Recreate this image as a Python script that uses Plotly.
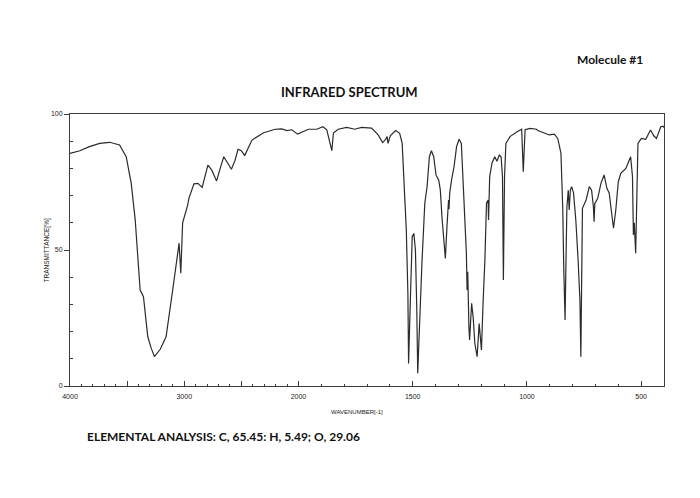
import plotly.graph_objects as go

# ---- data ----
wavenumber = [
    4000, 3914, 3830, 3740, 3653, 3566, 3508, 3464, 3429, 3406, 3386, 3357,
    3319, 3290, 3261, 3210, 3159, 3101, 3052, 3045, 3030, 3022, 3014, 2970,
    2959, 2915, 2880, 2843, 2815, 2793, 2760, 2717, 2685, 2654, 2620, 2587,
    2555, 2529, 2500, 2471, 2407, 2305, 2204, 2146, 2102, 2058, 2008,
    1967, 1956, 1920, 1893, 1876, 1862, 1854, 1847, 1826, 1789, 1753, 1724,
    1680, 1651, 1632, 1618, 1612, 1608, 1598, 1575, 1557, 1546, 1535, 1528,
    1521, 1518, 1509, 1502, 1495, 1488, 1482, 1478, 1473, 1467, 1459, 1447,
    1437, 1427, 1418, 1408, 1398, 1386, 1379, 1372, 1365, 1357, 1350, 1343,
    1341, 1338, 1330, 1319, 1308, 1297, 1287, 1280, 1272, 1265, 1262, 1259,
    1254, 1251, 1242, 1235, 1228, 1218, 1209, 1203, 1199, 1192, 1184, 1177,
    1170, 1168, 1166, 1163, 1153, 1141, 1131, 1121, 1113, 1107, 1103, 1098,
    1092, 1074, 1045, 1023, 1016, 1008, 987, 958, 952, 924, 902, 880, 865,
    851, 843, 839, 836, 833, 829, 825, 819, 815, 810, 804, 796, 786, 776,
    768, 764, 760, 757, 741, 727, 717, 709, 706, 703, 690, 676, 662, 650,
    640, 629, 621, 611, 600, 589, 567, 546, 538, 534, 530, 524, 520, 514,
    499, 480, 459, 444, 433, 414, 404, 400,
]
transmittance = [
    85.5, 86.5, 88.0, 89.2, 89.6, 88.6, 84.3, 74.5, 61.0, 47.5, 35.3, 32.8,
    18.1, 14.0, 10.8, 13.5, 18.1, 35.3, 49.0, 52.5, 41.5, 55.0, 60.0, 66.5,
    69.0, 74.3, 74.5, 73.0, 77.5, 81.2, 79.5, 75.4, 80.0, 84.3, 82.0, 79.7,
    83.0, 87.0, 86.5, 84.7, 90.4, 93.1, 94.4, 94.5, 93.9, 94.2, 92.6,
    94.1, 94.4, 94.4, 95.3, 94.2, 89.2, 86.5, 93.0, 94.4, 95.1, 94.4, 95.1,
    94.8, 92.3, 89.5, 90.7, 91.7, 89.2, 92.0, 93.9, 92.9, 89.2, 70.8, 57.4,
    34.0, 8.3, 35.3, 55.0, 56.1, 50.0, 28.0, 4.7, 15.7, 30.0, 46.3, 67.2,
    73.3, 84.3, 86.5, 84.3, 77.6, 75.7, 72.0, 62.2, 54.9, 46.9, 58.6, 68.4,
    65.0, 71.0, 75.7, 80.6, 88.0, 90.7, 89.2, 77.0, 61.0, 48.8, 35.3, 42.0,
    21.8, 16.9, 30.4, 25.0, 15.7, 10.8, 23.0, 15.7, 13.2, 30.4, 46.3, 67.2,
    68.4, 61.0, 70.0, 77.0, 81.9, 84.3, 82.6, 84.9, 84.3, 77.0, 39.0, 77.0,
    89.2, 91.7, 93.4, 94.4, 78.8, 94.2, 94.7, 94.4, 93.9, 93.1, 92.3, 92.6, 91.0,
    85.5, 64.7, 43.9, 28.0, 24.3, 46.3, 65.9, 72.0, 64.7, 72.0, 73.3, 71.0, 61.0,
    46.3, 31.6, 10.8, 52.5, 65.3, 68.4, 73.3, 72.0, 65.9, 60.4, 67.0, 69.0,
    74.5, 77.6, 72.7, 71.0, 63.5, 58.0, 64.7, 75.1, 78.2, 80.0, 84.3, 77.0,
    55.5, 60.0, 48.8, 70.8, 89.2, 91.0, 90.7, 94.1, 91.9, 91.0, 95.3, 95.5, 95.0,
]

x_major_wn = [4000, 3500, 3000, 2500, 2000, 1500, 1000, 500]
x_major_text = ["4000", "", "3000", "", "2000", "1500", "1000", "500"]
x_minor_wn = [w for w in range(4000, 399, -100) if w % 500 != 0]
y_major = [0, 50, 100]
y_major_text = ["0", "50", "100"]
y_minor = [v for v in range(10, 100, 10) if v != 50]


def to_axis(wn):
    # IR charts use a doubled scale below 2000 cm-1
    return (4000 - wn) / 2 if wn >= 2000 else 1000 + (2000 - wn)


xs = [to_axis(w) for w in wavenumber]

fig = go.Figure()
fig.add_trace(go.Scatter(
    x=xs, y=transmittance, mode="lines",
    line=dict(color="#2b2b2b", width=1.2),
    hoverinfo="skip", showlegend=False,
))

axis_col = "#3c3c3c"
tick_font = dict(size=7, family="Liberation Sans", color="#222222")
fig.update_layout(
    width=692, height=490, autosize=False,
    paper_bgcolor="white", plot_bgcolor="white",
    margin=dict(l=61.5, r=36, t=106, b=112, pad=0),
    font=dict(family="Liberation Sans", color="#222222", size=7),
    xaxis=dict(
        range=[to_axis(4000), to_axis(400)],
        tickmode="array",
        tickvals=[to_axis(w) for w in x_major_wn],
        ticktext=x_major_text,
        ticks="inside", ticklen=5, tickwidth=1, tickcolor=axis_col,
        minor=dict(tickmode="array", tickvals=[to_axis(w) for w in x_minor_wn],
                   ticks="inside", ticklen=2.5, tickwidth=1, tickcolor=axis_col),
        showline=True, linecolor=axis_col, linewidth=1, mirror=True,
        showgrid=False, zeroline=False,
        tickfont=tick_font,
        ticklabelstandoff=4,
    ),
    yaxis=dict(
        range=[0, 100],
        tickmode="array", tickvals=y_major, ticktext=y_major_text,
        ticks="outside", ticklen=5, tickwidth=1, tickcolor=axis_col,
        minor=dict(tickmode="array", tickvals=y_minor,
                   ticks="inside", ticklen=3, tickwidth=1, tickcolor=axis_col),
        showline=True, linecolor=axis_col, linewidth=1, mirror=True,
        showgrid=False, zeroline=False,
        tickfont=tick_font,
    ),
)

fig.add_annotation(text="<b>INFRARED SPECTRUM</b>", xref="paper", yref="paper",
                   x=0.470, y=1.081, xanchor="center", yanchor="middle",
                   showarrow=False, font=dict(family="Lato", size=13, color="#111111"))
fig.add_annotation(text="<b>Molecule #1</b>", xref="paper", yref="paper",
                   x=0.968, y=1.199, xanchor="right", yanchor="middle",
                   showarrow=False, font=dict(family="Lato", size=12, color="#111111"))
fig.add_annotation(text="<b>ELEMENTAL ANALYSIS: C, 65.45: H, 5.49; O, 29.06</b>",
                   xref="paper", yref="paper", x=0.026, y=-0.184,
                   xanchor="left", yanchor="middle", showarrow=False,
                   font=dict(family="Lato", size=12, color="#111111"))
fig.add_annotation(text="WAVENUMBER[-1]", xref="paper", yref="paper",
                   x=0.483, y=-0.096, xanchor="center", yanchor="middle",
                   showarrow=False, font=dict(family="Liberation Sans", size=6, color="#222222"))
fig.add_annotation(text="TRANSMITTANCE[%]", xref="paper", yref="paper",
                   x=-0.038, y=0.5, xanchor="center", yanchor="middle", textangle=-90,
                   showarrow=False, font=dict(family="Liberation Sans", size=6.5, color="#222222"))

fig.write_html("out.html")
